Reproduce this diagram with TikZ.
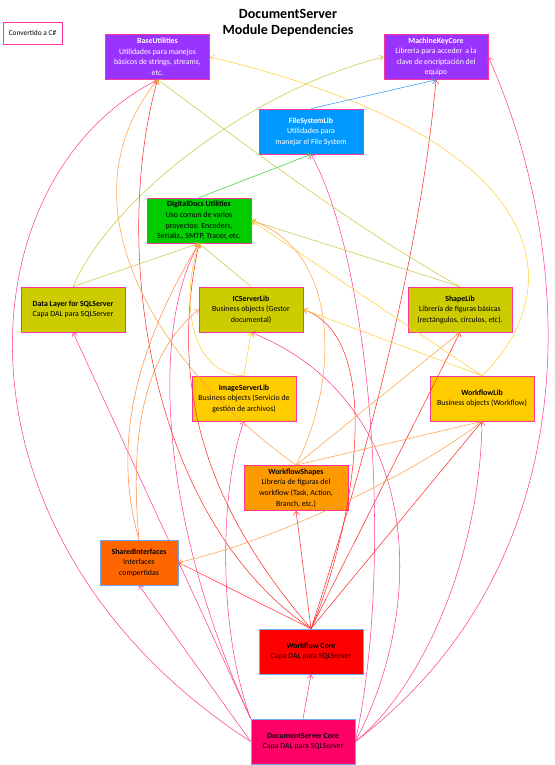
\documentclass[tikz,border=0pt]{standalone}
\usepackage{fontspec}
\setmainfont{Carlito}
\usetikzlibrary{arrows.meta, positioning}
\definecolor{modPurple}{HTML}{9933FF}
\definecolor{modBlue}{HTML}{0099FF}
\definecolor{modGreen}{HTML}{00CC00}
\definecolor{modOlive}{HTML}{CCCC00}
\definecolor{modYellow}{HTML}{FFCC00}
\definecolor{modAmber}{HTML}{FF9900}
\definecolor{modOrange}{HTML}{FF6600}
\definecolor{modRed}{HTML}{FF0000}
\definecolor{modRose}{HTML}{FF0066}
\definecolor{framePink}{HTML}{FF3399}
\definecolor{frameBlue}{HTML}{6FA8F0}
\definecolor{lnPink}{HTML}{FF3D8F}
\definecolor{lnRed}{HTML}{FF2A2A}
\definecolor{lnOrange}{HTML}{FF8A3D}
\definecolor{lnAmber}{HTML}{FFA040}
\definecolor{lnYellow}{HTML}{FFCC33}
\definecolor{lnOlive}{HTML}{C8C83A}
\definecolor{lnGreen}{HTML}{33CC33}
\definecolor{lnBlue}{HTML}{3399FF}

\begin{document}
\begin{tikzpicture}[
    x=0.03cm, y=-0.03cm,
    mod/.style={
        rectangle,
        draw=framePink,
        line width=0.6pt,
        minimum width=3.12cm,
        minimum height=1.35cm,
        inner sep=1pt,
        align=center,
        font=\fontsize{6.7}{9}\selectfont,
        text=black
    },
    coremod/.style={
        mod,
        draw=frameBlue
    },
    dep/.style={
        -{Straight Barb[length=1.1mm, width=1.8mm]},
        line width=0.45pt
    }
]
\useasboundingbox (0,0) rectangle (554,765);

% Title and legend
\node[font=\fontsize{12}{14.5}\selectfont\bfseries, align=center] (title) at (288,23) {DocumentServer\\Module Dependencies};
\node[draw=framePink, line width=0.8pt, minimum width=1.77cm, minimum height=0.66cm, font=\fontsize{6.3}{8}\selectfont] (conv) at (32.5,33) {Convertido a C\#};

% Modules
\node[mod, fill=modPurple, text=white] (base) at (157.5,57) {\textbf{BaseUtilities}\\Utilidades para manejos\\básicos de strings, streams,\\etc.};
\node[mod, fill=modPurple, text=white] (mkc) at (436,57) {\textbf{MachineKeyCore}\\Libreria para acceder\, a la\\clave de encriptación del\\equipo};
\node[mod, fill=modBlue, text=white] (fsl) at (311,131.5) {\textbf{FileSystemLib}\\Utilidades para\\manejar el File System};
\node[mod, fill=modGreen] (ddu) at (199,220.5) {\textbf{DigitalDocs Utilities}\\Uso comun de varios\\proyectos: Encoders,\\Serializ., SMTP, Tracer, etc.};
\node[mod, fill=modOlive] (dal) at (73,309.5) {\textbf{Data Layer for SQLServer}\\Capa DAL para SQLServer};
\node[mod, fill=modOlive] (ics) at (251,309.5) {\textbf{ICServerLib}\\Business objects (Gestor\\documental)};
\node[mod, fill=modOlive] (shp) at (460,309.5) {\textbf{ShapeLib}\\Librería de figuras básicas\\(rectángulos, círculos, etc).};
\node[mod, fill=modYellow] (isl) at (244,398.5) {\textbf{ImageServerLib}\\Business objects (Servicio de\\gestión de archivos)};
\node[mod, fill=modYellow] (wfl) at (482,398.5) {\textbf{WorkflowLib}\\Business objects (Workflow)};
\node[mod, fill=modAmber] (wfs) at (296,488) {\textbf{WorkflowShapes}\\Librería de figuras del\\workflow (Task, Action,\\Branch, etc.)};
\node[coremod, fill=modOrange, minimum width=2.34cm] (shi) at (139,562.5) {\textbf{SharedInterfaces}\\Interfaces\\compertidas};
\node[coremod, fill=modRed] (wfc) at (311,651.5) {\textbf{Workflow Core}\\Capa DAL para SQLServer};
\node[coremod, fill=modRose] (dsc) at (303,741.5) {\textbf{DocumentServer Core}\\Capa DAL para SQLServer};

% DocumentServer Core
\draw[dep, lnPink] (dsc.north) -- (wfc.south);
\draw[dep, lnPink] (dsc.west) -- (shi.south);
\draw[dep, lnPink] (dsc.west) .. controls (-60,540) and (-40,180) .. (base.south);
\draw[dep, lnPink] (dsc.north west) -- (dal.south);
\draw[dep, lnPink] (dsc.north west) .. controls (160,520) and (150,330) .. (ddu.south);
\draw[dep, lnPink] (dsc.north west) .. controls (215,620) and (222,480) .. (isl.south);
\draw[dep, lnPink] (dsc.east) .. controls (430,600) and (420,400) .. (ics.south);
\draw[dep, lnPink] (dsc.east) .. controls (395,560) and (370,260) .. (fsl.south);
\draw[dep, lnPink] (dsc.east) .. controls (420,690) and (480,560) .. (wfl.south);
\draw[dep, lnPink] (dsc.east) .. controls (595,560) and (575,250) .. (mkc.east);

% Workflow Core
\draw[dep, lnRed] (wfc.north) -- (shi.east);
\draw[dep, lnRed] (wfc.north) -- (wfs.south);
\draw[dep, lnRed] (wfc.north) .. controls (150,520) and (110,250) .. (base.south);
\draw[dep, lnRed] (wfc.north) .. controls (200,500) and (170,380) .. (ddu.south);
\draw[dep, lnRed] (wfc.north) .. controls (350,540) and (390,340) .. (ics.east);
\draw[dep, lnRed] (wfc.north) -- (shp.south);
\draw[dep, lnRed] (wfc.north) -- (wfl.south);
\draw[dep, lnRed] (wfc.north) .. controls (360,480) and (420,260) .. (mkc.south);

% SharedInterfaces, WorkflowShapes
\draw[dep, lnOrange] (shi.north) .. controls (110,440) and (140,340) .. (ddu.south);
\draw[dep, lnOrange] (shi.north) .. controls (128,420) and (150,350) .. (ics.west);
\draw[dep, lnAmber] (wfs.north) .. controls (150,360) and (60,200) .. (base.south);
\draw[dep, lnAmber] (wfs.north) .. controls (340,380) and (340,250) .. (ddu.east);
\draw[dep, lnAmber] (wfs.north) -- (shp.south);
\draw[dep, lnAmber] (wfs.north) -- (wfl.south);

% ImageServerLib, WorkflowLib
\draw[dep, lnYellow] (isl.north) -- (ics.south);
\draw[dep, lnYellow] (isl.north) .. controls (190,375) and (180,300) .. (ddu.south);
\draw[dep, lnYellow] (wfl.north) .. controls (570,290) and (560,140) .. (base.east);
\draw[dep, lnYellow] (wfl.north) -- (ddu.east);
\draw[dep, lnYellow] (wfl.north) -- (ics.east);
\draw[dep, lnAmber] (wfl.south) .. controls (420,470) and (280,540) .. (shi.east);

% Libraries
\draw[dep, lnOlive] (ics.north) -- (ddu.south);
\draw[dep, lnOlive] (dal.north) -- (ddu.south);
\draw[dep, lnOlive] (dal.north) .. controls (110,200) and (250,90) .. (mkc.west);
\draw[dep, lnOlive] (shp.north) -- (ddu.east);
\draw[dep, lnOlive] (shp.north) .. controls (340,220) and (200,110) .. (base.south);
\draw[dep, lnGreen] (ddu.north) -- (fsl.south);
\draw[dep, lnBlue] (fsl.north) -- (mkc.south);

\end{tikzpicture}
\end{document}
